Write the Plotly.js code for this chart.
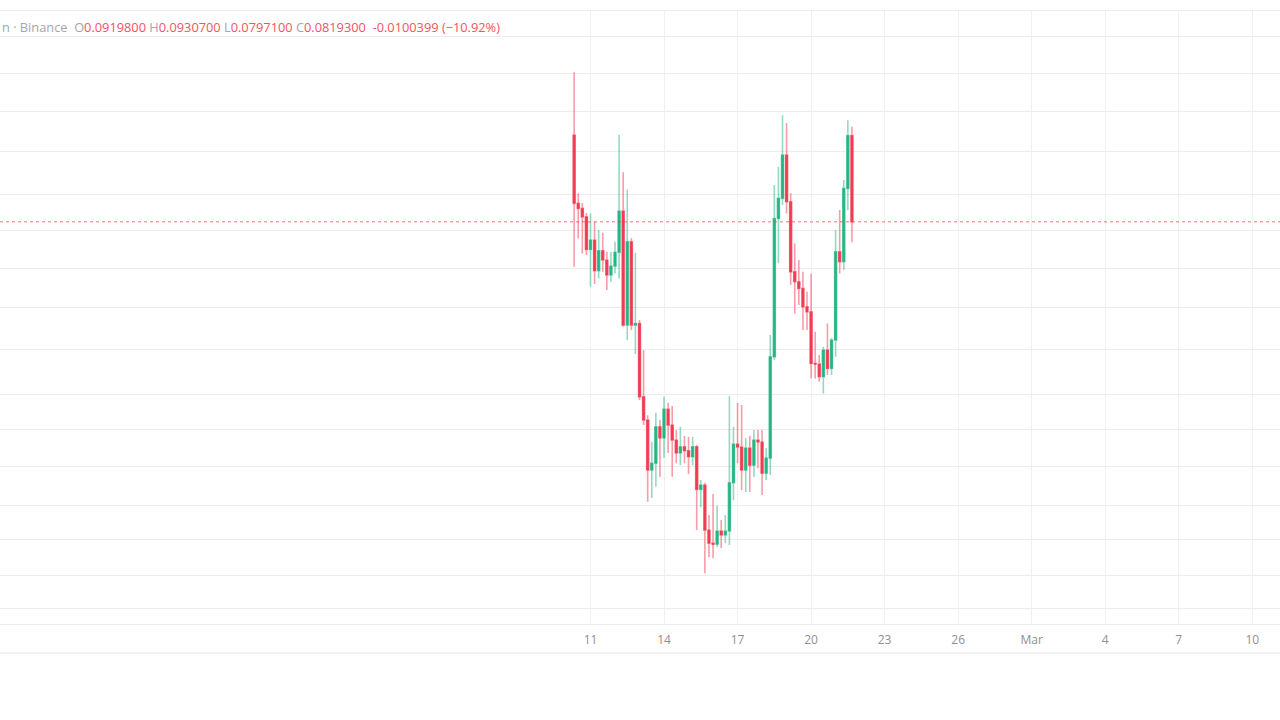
<!DOCTYPE html>
<html>
<head>
<meta charset="utf-8">
<script src="https://cdn.plot.ly/plotly-3.0.1.min.js"></script>
<style>
  html, body { margin: 0; padding: 0; background: #ffffff; }
  #chart { width: 1280px; height: 720px; }
</style>
</head>
<body>
<div id="chart"></div>
<script>
// 4h candles, Binance
const times = [
  '2023-02-10 08:00','2023-02-10 12:00','2023-02-10 16:00','2023-02-10 20:00',
  '2023-02-11 00:00','2023-02-11 04:00','2023-02-11 08:00','2023-02-11 12:00','2023-02-11 16:00','2023-02-11 20:00',
  '2023-02-12 00:00','2023-02-12 04:00','2023-02-12 08:00','2023-02-12 12:00','2023-02-12 16:00','2023-02-12 20:00',
  '2023-02-13 00:00','2023-02-13 04:00','2023-02-13 08:00','2023-02-13 12:00','2023-02-13 16:00','2023-02-13 20:00',
  '2023-02-14 00:00','2023-02-14 04:00','2023-02-14 08:00','2023-02-14 12:00','2023-02-14 16:00','2023-02-14 20:00',
  '2023-02-15 00:00','2023-02-15 04:00','2023-02-15 08:00','2023-02-15 12:00','2023-02-15 16:00','2023-02-15 20:00',
  '2023-02-16 00:00','2023-02-16 04:00','2023-02-16 08:00','2023-02-16 12:00','2023-02-16 16:00','2023-02-16 20:00',
  '2023-02-17 00:00','2023-02-17 04:00','2023-02-17 08:00','2023-02-17 12:00','2023-02-17 16:00','2023-02-17 20:00',
  '2023-02-18 00:00','2023-02-18 04:00','2023-02-18 08:00','2023-02-18 12:00','2023-02-18 16:00','2023-02-18 20:00',
  '2023-02-19 00:00','2023-02-19 04:00','2023-02-19 08:00','2023-02-19 12:00','2023-02-19 16:00','2023-02-19 20:00',
  '2023-02-20 00:00','2023-02-20 04:00','2023-02-20 08:00','2023-02-20 12:00','2023-02-20 16:00','2023-02-20 20:00',
  '2023-02-21 00:00','2023-02-21 04:00','2023-02-21 08:00','2023-02-21 12:00','2023-02-21 16:00'
];

const open = [
  0.09204,0.08399,0.08342,0.08248,0.07895,0.07995,0.07673,0.07882,0.07784,0.07629,
  0.07721,0.07865,0.08312,0.07134,0.07977,0.07134,0.07150,0.06480,0.06281,0.05874,
  0.05929,0.06225,0.06132,0.06374,0.06239,0.06115,0.06010,0.06060,0.06028,0.05980,
  0.06060,0.05724,0.05757,0.05420,0.05326,0.05319,0.05413,0.05384,0.05413,0.05775,
  0.06082,0.06058,0.05874,0.06050,0.05913,0.06115,0.06099,0.05850,0.05969,0.06837,
  0.08230,0.08455,0.08961,0.08417,0.07662,0.07561,0.07494,0.07311,0.07262,0.06777,
  0.06771,0.06657,0.06899,0.06731,0.06992,0.07871,0.07766,0.08569,0.09198
];
const high = [
  0.10011,0.08512,0.08402,0.08290,0.08286,0.08194,0.08103,0.08074,0.07871,0.07868,
  0.07977,0.09204,0.08755,0.08557,0.08016,0.07860,0.07182,0.06899,0.06323,0.06101,
  0.06343,0.06281,0.06480,0.06429,0.06400,0.06198,0.06225,0.06148,0.06142,0.06140,
  0.06075,0.05796,0.05775,0.05530,0.05688,0.05599,0.05493,0.05530,0.06486,0.06225,
  0.06426,0.06409,0.06132,0.06148,0.06198,0.06198,0.06198,0.06050,0.07040,0.08607,
  0.08820,0.09453,0.09355,0.08512,0.07960,0.07784,0.07662,0.07460,0.07646,0.07071,
  0.06853,0.06929,0.07150,0.07011,0.08103,0.08323,0.08665,0.09389,0.09307
];
const low = [
  0.07714,0.08013,0.07854,0.07836,0.07510,0.07537,0.07595,0.07662,0.07477,0.07561,
  0.07646,0.07595,0.07118,0.06992,0.07087,0.06862,0.06452,0.06239,0.05629,0.05658,
  0.05744,0.05821,0.05969,0.06010,0.05821,0.05929,0.05913,0.05929,0.05843,0.05913,
  0.05420,0.05589,0.05116,0.05227,0.05220,0.05298,0.05291,0.05326,0.05312,0.05642,
  0.05929,0.05719,0.05704,0.05704,0.05819,0.05889,0.05681,0.05796,0.05835,0.06807,
  0.07750,0.08380,0.08286,0.07527,0.07247,0.07328,0.07087,0.07087,0.06642,0.06642,
  0.06612,0.06510,0.06672,0.06672,0.06837,0.07646,0.07680,0.08323,0.07971
];
const close = [
  0.08399,0.08342,0.08248,0.07895,0.07995,0.07673,0.07882,0.07784,0.07629,0.07721,
  0.07865,0.08312,0.07134,0.07977,0.07134,0.07150,0.06480,0.06281,0.05874,0.05929,
  0.06225,0.06132,0.06374,0.06239,0.06115,0.06010,0.06060,0.06028,0.05980,0.06060,
  0.05724,0.05757,0.05420,0.05326,0.05319,0.05413,0.05384,0.05413,0.05775,0.06082,
  0.06058,0.05874,0.06050,0.05913,0.06115,0.06099,0.05850,0.05969,0.06837,0.08230,
  0.08455,0.08961,0.08417,0.07662,0.07561,0.07494,0.07311,0.07262,0.06777,0.06771,
  0.06657,0.06899,0.06731,0.06992,0.07871,0.07766,0.08569,0.09198,0.08193
];

// hidden price grid levels (log scale) and time-axis ticks
const priceGrid = [0.105,0.1,0.095,0.09,0.085,0.081,0.077,0.073,0.069,0.065,0.062,0.059,0.056,0.0535,0.051,0.0488];
const tickDates = ['2023-02-11','2023-02-14','2023-02-17','2023-02-20','2023-02-23','2023-02-26','2023-03-01','2023-03-04','2023-03-07','2023-03-10'];
const tickLabels = ['11','14','17','20','23','26','Mar','4','7','10'];
const legendText = {
  name: 'n · Binance',
  o: '0.0919800', h: '0.0930700', l: '0.0797100', c: '0.0819300',
  chg: '-0.0100399 (\u221210.92%)'
};

const UP = '#26b583', DOWN = '#f23a52';
const UP_W = 'rgba(38,181,131,0.5)', DOWN_W = 'rgba(242,58,82,0.5)';

// body-only bounds for the solid body layer
const bodyHigh = open.map((o, i) => Math.max(o, close[i]));
const bodyLow = open.map((o, i) => Math.min(o, close[i]));

const wicks = {
  type: 'candlestick', x: times, open: open, high: high, low: low, close: close,
  increasing: { line: { color: UP_W, width: 1.6 }, fillcolor: UP_W },
  decreasing: { line: { color: DOWN_W, width: 1.6 }, fillcolor: DOWN_W },
  hoverinfo: 'skip', showlegend: false
};
const bodies = {
  type: 'candlestick', x: times, open: open, high: bodyHigh, low: bodyLow, close: close,
  increasing: { line: { color: UP, width: 0.6 }, fillcolor: UP },
  decreasing: { line: { color: DOWN, width: 0.6 }, fillcolor: DOWN },
  showlegend: false
};

const lastClose = close[close.length - 1];
const g = '#a3a6ae', r = '#f7525f';
const headText = legendText.name + '&nbsp;&nbsp;' +
  'O<span style="color:' + r + '">' + legendText.o + '</span>&nbsp;' +
  'H<span style="color:' + r + '">' + legendText.h + '</span>&nbsp;' +
  'L<span style="color:' + r + '">' + legendText.l + '</span>&nbsp;' +
  'C<span style="color:' + r + '">' + legendText.c + '</span>&nbsp;&nbsp;' +
  '<span style="color:' + r + '">' + legendText.chg + '</span>';

const layout = {
  width: 1280, height: 720,
  margin: { l: 0, r: 0, t: 11, b: 96, pad: 0 },
  paper_bgcolor: '#ffffff', plot_bgcolor: '#ffffff',
  showlegend: false,
  xaxis: {
    type: 'date',
    range: ['2023-01-17 21:48', '2023-03-11 03:09'],
    rangeslider: { visible: false },
    tickmode: 'array', tickvals: tickDates, ticktext: tickLabels,
    showgrid: true, gridcolor: '#f0f0f0', gridwidth: 1,
    showline: true, linecolor: '#ececec', linewidth: 1, mirror: true,
    ticks: '', ticklabelstandoff: 5,
    tickfont: { family: 'Open Sans, Roboto, sans-serif', size: 12, color: '#8c8f98' },
    zeroline: false, fixedrange: true
  },
  yaxis: {
    type: 'log',
    range: [Math.log10(0.04779), Math.log10(0.10869)],
    tickmode: 'array', tickvals: priceGrid,
    showticklabels: false, ticks: '',
    showgrid: true, gridcolor: '#ececec', gridwidth: 1,
    showline: false, zeroline: false, fixedrange: true
  },
  shapes: [
    { type: 'line', xref: 'paper', yref: 'y', x0: 0, x1: 1, y0: lastClose, y1: lastClose,
      line: { color: 'rgba(242,54,69,0.7)', width: 1, dash: 'dot' } },
    { type: 'line', xref: 'paper', yref: 'paper', x0: 0, x1: 1, y0: -0.0473, y1: -0.0473,
      line: { color: '#ececec', width: 1.5 } }
  ],
  annotations: [
    { xref: 'paper', yref: 'paper', x: 0, y: 0.9739, xanchor: 'left', yanchor: 'middle',
      showarrow: false, align: 'left', text: headText,
      font: { family: 'Open Sans, Roboto, sans-serif', size: 12.8, color: g } }
  ]
};

Plotly.newPlot('chart', [wicks, bodies], layout, { displayModeBar: false, staticPlot: true });
</script>
</body>
</html>
